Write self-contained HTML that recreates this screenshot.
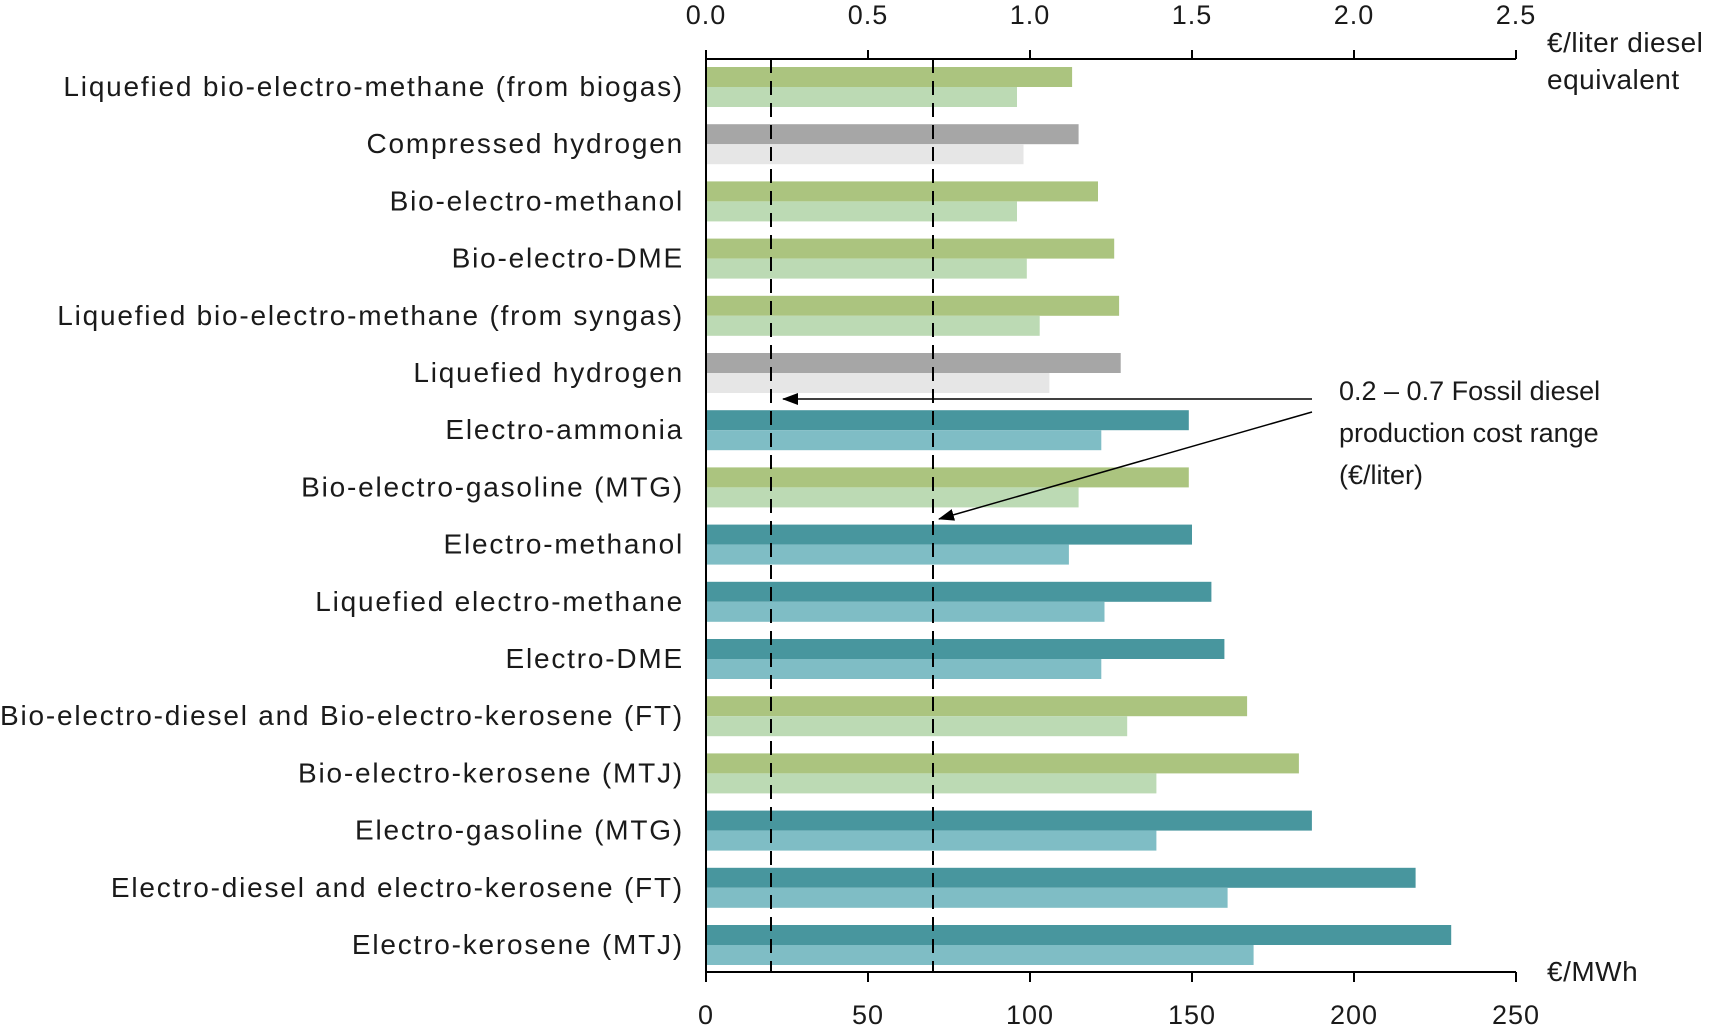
<!DOCTYPE html>
<html><head><meta charset="utf-8"><style>
html,body{margin:0;padding:0;background:#fff;}
svg text{font-family:"Liberation Sans",sans-serif;fill:#1a1a1a;}
</style></head><body>
<svg width="1725" height="1030" xmlns="http://www.w3.org/2000/svg">
<defs>
<marker id="ar2" markerWidth="16" markerHeight="12" refX="15" refY="6" orient="auto" markerUnits="userSpaceOnUse"><path d="M0,0 L16,6 L0,12 z" fill="#000"/></marker></defs>
<g>
<rect x="707" y="67" width="365.1" height="20" fill="#abc47f"/><rect x="707" y="87" width="310.0" height="20" fill="#bcdab4"/>
<rect x="707" y="124.2" width="371.6" height="20" fill="#a6a6a6"/><rect x="707" y="144.2" width="316.5" height="20" fill="#e6e6e6"/>
<rect x="707" y="181.4" width="391.0" height="20" fill="#abc47f"/><rect x="707" y="201.4" width="310.0" height="20" fill="#bcdab4"/>
<rect x="707" y="238.6" width="407.2" height="20" fill="#abc47f"/><rect x="707" y="258.6" width="319.8" height="20" fill="#bcdab4"/>
<rect x="707" y="295.8" width="412.1" height="20" fill="#abc47f"/><rect x="707" y="315.8" width="332.7" height="20" fill="#bcdab4"/>
<rect x="707" y="353" width="413.7" height="20" fill="#a6a6a6"/><rect x="707" y="373" width="342.4" height="20" fill="#e6e6e6"/>
<rect x="707" y="410.2" width="481.8" height="20" fill="#48969e"/><rect x="707" y="430.2" width="394.3" height="20" fill="#7fbdc5"/>
<rect x="707" y="467.4" width="481.8" height="20" fill="#abc47f"/><rect x="707" y="487.4" width="371.6" height="20" fill="#bcdab4"/>
<rect x="707" y="524.6" width="485" height="20" fill="#48969e"/><rect x="707" y="544.6" width="361.9" height="20" fill="#7fbdc5"/>
<rect x="707" y="581.8" width="504.4" height="20" fill="#48969e"/><rect x="707" y="601.8" width="397.5" height="20" fill="#7fbdc5"/>
<rect x="707" y="639" width="517.4" height="20" fill="#48969e"/><rect x="707" y="659" width="394.3" height="20" fill="#7fbdc5"/>
<rect x="707" y="696.2" width="540.1" height="20" fill="#abc47f"/><rect x="707" y="716.2" width="420.2" height="20" fill="#bcdab4"/>
<rect x="707" y="753.4" width="591.9" height="20" fill="#abc47f"/><rect x="707" y="773.4" width="449.4" height="20" fill="#bcdab4"/>
<rect x="707" y="810.6" width="604.9" height="20" fill="#48969e"/><rect x="707" y="830.6" width="449.4" height="20" fill="#7fbdc5"/>
<rect x="707" y="867.8" width="708.6" height="20" fill="#48969e"/><rect x="707" y="887.8" width="520.6" height="20" fill="#7fbdc5"/>
<rect x="707" y="925" width="744.2" height="20" fill="#48969e"/><rect x="707" y="945" width="546.6" height="20" fill="#7fbdc5"/>
</g>
<g font-size="28" text-anchor="end" letter-spacing="1.8">
<text x="684" y="96">Liquefied bio-electro-methane (from biogas)</text>
<text x="684" y="153.2">Compressed hydrogen</text>
<text x="684" y="210.4">Bio-electro-methanol</text>
<text x="684" y="267.6">Bio-electro-DME</text>
<text x="684" y="324.8">Liquefied bio-electro-methane (from syngas)</text>
<text x="684" y="382">Liquefied hydrogen</text>
<text x="684" y="439.2">Electro-ammonia</text>
<text x="684" y="496.4">Bio-electro-gasoline (MTG)</text>
<text x="684" y="553.6">Electro-methanol</text>
<text x="684" y="610.8">Liquefied electro-methane</text>
<text x="684" y="668">Electro-DME</text>
<text x="684" y="725.2">Bio-electro-diesel and Bio-electro-kerosene (FT)</text>
<text x="684" y="782.4">Bio-electro-kerosene (MTJ)</text>
<text x="684" y="839.6">Electro-gasoline (MTG)</text>
<text x="684" y="896.8">Electro-diesel and electro-kerosene (FT)</text>
<text x="684" y="954">Electro-kerosene (MTJ)</text>
</g>
<line x1="771" y1="59" x2="771" y2="972" stroke="#000" stroke-width="2" stroke-dasharray="14,8"/>
<line x1="933" y1="59" x2="933" y2="972" stroke="#000" stroke-width="2" stroke-dasharray="14,8"/>
<line x1="706" y1="59" x2="1516" y2="59" stroke="#000" stroke-width="2"/>
<line x1="706" y1="972" x2="1516" y2="972" stroke="#000" stroke-width="2"/>
<line x1="706" y1="50" x2="706" y2="982" stroke="#000" stroke-width="2"/>
<g stroke="#000" stroke-width="2">
<line x1="868" y1="50" x2="868" y2="59"/><line x1="1030" y1="50" x2="1030" y2="59"/><line x1="1192" y1="50" x2="1192" y2="59"/><line x1="1354" y1="50" x2="1354" y2="59"/><line x1="1516" y1="50" x2="1516" y2="59"/>
<line x1="868" y1="972" x2="868" y2="982"/><line x1="1030" y1="972" x2="1030" y2="982"/><line x1="1192" y1="972" x2="1192" y2="982"/><line x1="1354" y1="972" x2="1354" y2="982"/><line x1="1516" y1="972" x2="1516" y2="982"/>
</g>
<g font-size="27" text-anchor="middle" letter-spacing="1">
<text x="706" y="24">0.0</text><text x="868" y="24">0.5</text><text x="1030" y="24">1.0</text><text x="1192" y="24">1.5</text><text x="1354" y="24">2.0</text><text x="1516" y="24">2.5</text>
<text x="706" y="1024">0</text><text x="868" y="1024">50</text><text x="1030" y="1024">100</text><text x="1192" y="1024">150</text><text x="1354" y="1024">200</text><text x="1516" y="1024">250</text>
</g>
<g font-size="28">
<text x="1547" y="52" letter-spacing="0.5">€/liter diesel</text><text x="1547" y="89" letter-spacing="0.5">equivalent</text>
<text x="1547" y="981" letter-spacing="0.5">€/MWh</text>
<text x="1339" y="400" font-size="27">0.2 – 0.7 Fossil diesel</text>
<text x="1339" y="442" font-size="27">production cost range</text>
<text x="1339" y="484" font-size="27">(€/liter)</text>
</g>
<line x1="1312" y1="399" x2="783" y2="399" stroke="#000" stroke-width="1.5" marker-end="url(#ar2)"/>
<line x1="1312" y1="412" x2="939" y2="519" stroke="#000" stroke-width="1.5" marker-end="url(#ar2)"/>
</svg>
</body></html>
